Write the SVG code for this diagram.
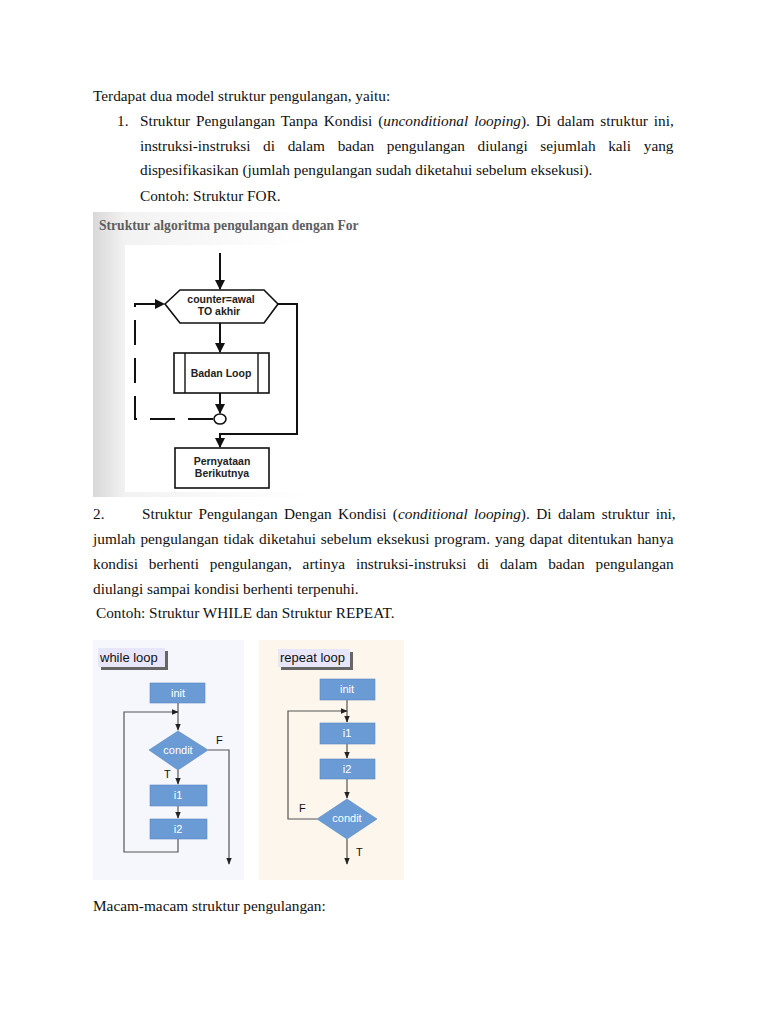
<svg xmlns="http://www.w3.org/2000/svg" width="768" height="1024" viewBox="0 0 768 1024">
<defs>
<style>
.t{font-family:"Liberation Serif","Times New Roman",serif;font-size:15.3px;fill:#111}
.fc{font-family:"Liberation Sans",Arial,sans-serif;font-size:10.5px;font-weight:bold;fill:#222;text-anchor:middle}
.bk{stroke:#111;stroke-width:2;fill:none}
.bx{fill:#fff;stroke:#111;stroke-width:1.6}
.bl{fill:#6b9bd4;stroke:#5a88c0;stroke-width:0.6}
.wt{font-family:"Liberation Sans",Arial,sans-serif;font-size:11px;fill:#fff;text-anchor:middle}
.lb{font-family:"Liberation Sans",Arial,sans-serif;font-size:13px;fill:#111}
.tf{font-family:"Liberation Sans",Arial,sans-serif;font-size:11px;fill:#111}
.gl{stroke:#555;stroke-width:1.2;fill:none}
</style>
<marker id="ab" viewBox="0 0 10 10" refX="9" refY="5" markerWidth="5" markerHeight="5" orient="auto"><path d="M0,0L10,5L0,10z" fill="#111"/></marker>
<marker id="ag" viewBox="0 0 10 10" refX="9" refY="5" markerWidth="6" markerHeight="6" orient="auto"><path d="M0,1L10,5L0,9z" fill="#222"/></marker>
<linearGradient id="gx" x1="0" y1="0" x2="1" y2="0"><stop offset="0" stop-color="#d8d8d8"/><stop offset="0.15" stop-color="#f2f2f2"/><stop offset="1" stop-color="#ffffff"/></linearGradient>
</defs>
<rect width="768" height="1024" fill="#fff"/>

<g id="text1">
<text class="t" x="93" y="101">Terdapat dua model struktur pengulangan, yaitu:</text>
<text class="t" x="117" y="126">1.</text>
<text class="t" x="140" y="126" word-spacing="2.1">Struktur Pengulangan Tanpa Kondisi (<tspan font-style="italic">unconditional looping</tspan>). Di dalam struktur ini,</text>
<text class="t" x="140" y="151" word-spacing="8.8">instruksi-instruksi di dalam badan pengulangan diulangi sejumlah kali yang</text>
<text class="t" x="140" y="175">dispesifikasikan (jumlah pengulangan sudah diketahui sebelum eksekusi).</text>
<text class="t" x="140" y="201">Contoh: Struktur FOR.</text>
</g>

<g id="for-image">
<rect x="93" y="212" width="212" height="285" fill="url(#gx)"/>
<rect x="125" y="245" width="178" height="247" fill="#fff"/>
<text x="99" y="230" font-family="Liberation Serif,serif" font-size="13.6" font-weight="bold" fill="#5e5e5e">Struktur algoritma pengulangan dengan For</text>
</g>

<g id="for-connectors">
<line class="bk" x1="220" y1="253" x2="220" y2="289" marker-end="url(#ab)"/>
<line class="bk" x1="220" y1="323" x2="220" y2="352" marker-end="url(#ab)"/>
<line class="bk" x1="220" y1="393" x2="220" y2="413" marker-end="url(#ab)"/>
<polyline class="bk" points="278,304 297,304 297,434 220,434 220,447" marker-end="url(#ab)"/>
<polyline class="bk" points="213,419 135,419 135,304 164,304" stroke-dasharray="25,13" marker-end="url(#ab)"/>
</g>
<g id="for-hex">
<polygon class="bx" points="165,304 180,290 264,290 278,304 264,323 180,323"/>
<text class="fc" x="221" y="303">counter=awal</text>
<text class="fc" x="219" y="315">TO akhir</text>
</g>
<g id="for-body">
<rect class="bx" x="174" y="353" width="95" height="40"/>
<line x1="185" y1="353" x2="185" y2="393" stroke="#111" stroke-width="1.4"/>
<line x1="258" y1="353" x2="258" y2="393" stroke="#111" stroke-width="1.4"/>
<text class="fc" x="221" y="377">Badan Loop</text>
</g>
<g id="for-join">
<ellipse class="bx" cx="220" cy="419" rx="6" ry="5"/>
</g>
<g id="for-next">
<rect class="bx" x="175" y="448" width="94" height="40"/>
<text class="fc" x="222" y="465">Pernyataan</text>
<text class="fc" x="222" y="477">Berikutnya</text>
</g>

<g id="text2">
<text class="t" x="93" y="519">2.</text>
<text class="t" x="142" y="519" word-spacing="2.6">Struktur Pengulangan Dengan Kondisi (<tspan font-style="italic">conditional looping</tspan>). Di dalam struktur ini,</text>
<text class="t" x="93" y="544" word-spacing="1.1">jumlah pengulangan tidak diketahui sebelum eksekusi program. yang dapat ditentukan hanya</text>
<text class="t" x="93" y="569" word-spacing="7">kondisi berhenti pengulangan, artinya instruksi-instruksi di dalam badan pengulangan</text>
<text class="t" x="93" y="594">diulangi sampai kondisi berhenti terpenuhi.</text>
<text class="t" x="96" y="618">Contoh: Struktur WHILE dan Struktur REPEAT.</text>
</g>

<g id="while-panel">
<rect x="93" y="640" width="151" height="240" fill="#f5f7fd"/>
<rect x="101" y="651" width="67" height="19" fill="#666"/>
<rect x="98" y="648" width="67" height="19" fill="#e8e6fa"/>
<text class="lb" x="100" y="662">while loop</text>
</g>
<g id="while-connectors">
<line class="gl" x1="178" y1="703" x2="178" y2="730" marker-end="url(#ag)"/>
<polyline class="gl" points="178,839 178,852 124,852 124,712 178,712" marker-end="url(#ag)"/>
<polyline class="gl" points="208,750 229,750 229,864" marker-end="url(#ag)"/>
<line class="gl" x1="178" y1="770" x2="178" y2="784" marker-end="url(#ag)"/>
<line class="gl" x1="178" y1="806" x2="178" y2="818" marker-end="url(#ag)"/>
<text class="tf" x="216" y="744">F</text>
<text class="tf" x="164" y="778">T</text>
</g>
<g id="while-init"><rect class="bl" x="150" y="683" width="55" height="20"/><text class="wt" x="178" y="697">init</text></g>
<g id="while-condit"><polygon class="bl" points="178,731 208,750 178,770 149,750"/><text class="wt" x="178" y="754">condit</text></g>
<g id="while-i1"><rect class="bl" x="150" y="785" width="57" height="21"/><text class="wt" x="178" y="799">i1</text></g>
<g id="while-i2"><rect class="bl" x="150" y="819" width="57" height="20"/><text class="wt" x="178" y="833">i2</text></g>

<g id="repeat-panel">
<rect x="259" y="640" width="145" height="240" fill="#fdf6ec"/>
<rect x="281" y="652" width="72" height="18" fill="#666"/>
<rect x="278" y="649" width="72" height="18" fill="#e8e6fa"/>
<text class="lb" x="280" y="662">repeat loop</text>
</g>
<g id="repeat-connectors">
<line class="gl" x1="347" y1="700" x2="347" y2="722" marker-end="url(#ag)"/>
<polyline class="gl" points="317,819 288,819 288,711 347,711" marker-end="url(#ag)"/>
<line class="gl" x1="347" y1="744" x2="347" y2="758" marker-end="url(#ag)"/>
<line class="gl" x1="347" y1="779" x2="347" y2="798" marker-end="url(#ag)"/>
<line class="gl" x1="347" y1="839" x2="347" y2="864" marker-end="url(#ag)"/>
<text class="tf" x="299" y="812">F</text>
<text class="tf" x="356" y="856">T</text>
</g>
<g id="repeat-init"><rect class="bl" x="320" y="679" width="55" height="21"/><text class="wt" x="347" y="693">init</text></g>
<g id="repeat-i1"><rect class="bl" x="320" y="723" width="55" height="21"/><text class="wt" x="347" y="737">i1</text></g>
<g id="repeat-i2"><rect class="bl" x="320" y="759" width="55" height="20"/><text class="wt" x="347" y="773">i2</text></g>
<g id="repeat-condit"><polygon class="bl" points="347,799 377,819 347,839 317,819"/><text class="wt" x="347" y="822">condit</text></g>

<g id="text3">
<text class="t" x="93" y="911">Macam-macam struktur pengulangan:</text>
</g>
</svg>
